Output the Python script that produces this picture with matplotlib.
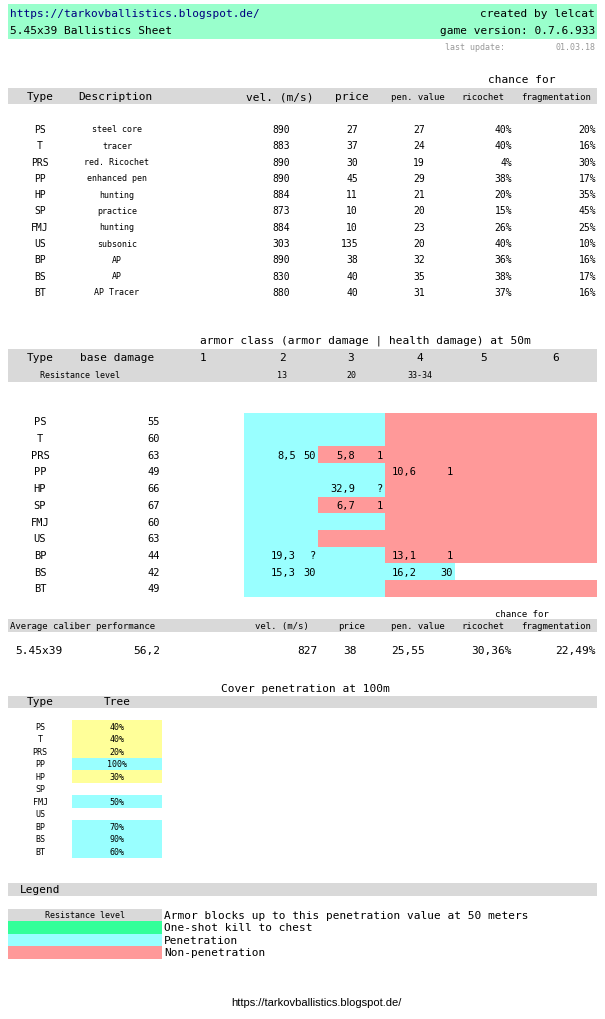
import matplotlib
matplotlib.use("Agg")
import matplotlib.pyplot as plt
from matplotlib.patches import Rectangle

types = ["PS","T","PRS","PP","HP","SP","FMJ","US","BP","BS","BT"]
descs = ["steel core","tracer","red. Ricochet","enhanced pen","hunting","practice","hunting","subsonic","AP","AP","AP Tracer"]
vel = [890,883,890,890,884,873,884,303,890,830,880]
price = [27,37,30,45,11,10,10,135,38,40,40]
pen = [27,24,19,29,21,20,23,20,32,35,31]
rico = ["40%","40%","4%","38%","20%","15%","26%","40%","36%","38%","37%"]
frag = ["20%","16%","30%","17%","35%","45%","25%","10%","16%","17%","16%"]
base_dmg = [55,60,63,49,66,67,60,63,44,42,49]
# armor classes 2..6 : 'c' penetration, 'r' non-penetration, '' none ; per class 2,3,4-6
armor = [["c","c","r"],["c","c","r"],["c","r","r"],["c","c","r"],["c","c","r"],
         ["c","r","r"],["c","c","r"],["c","r","r"],["c","c","r"],["c","c","c4"],["c","c","r"]]
armor_txt = {("PRS",0):("8,5","50"),("PRS",1):("5,8","1"),("PP",2):("10,6","1"),
             ("HP",1):("32,9","?"),("SP",1):("6,7","1"),("BP",0):("19,3","?"),
             ("BP",2):("13,1","1"),("BS",0):("15,3","30"),("BS",2):("16,2","30")}
cover = ["40%","40%","20%","100%","30%","","50%","","70%","90%","60%"]
avg = ["5.45x39","56,2","827","38","25,55","30,36%","22,49%"]

CY="#99ffff"; RD="#ff9999"; GR="#d9d9d9"; YE="#ffff99"; GN="#99ffcc"
fig = plt.figure(figsize=(6.05,10.2), dpi=100)
ax = fig.add_axes([0,0,1,1]); ax.set_xlim(0,605); ax.set_ylim(1020,0); ax.axis("off")
M="DejaVu Sans Mono"
def t(x,y,s,size=8,ha="left",c="black",f=M):
    ax.text(x,y,s,fontsize=size,ha=ha,va="center",color=c,family=f)
def r(x0,y0,x1,y1,c):
    ax.add_patch(Rectangle((x0,y0),x1-x0,y1-y0,color=c,lw=0))

r(8,5,597,40,GN)
t(10,14,"https://tarkovballistics.blogspot.de/",8,c="#000080")
t(10,31,"5.45x39 Ballistics Sheet",8)
t(595,14,"created by lelcat",8,"right")
t(595,31,"game version: 0.7.6.933",8,"right")
t(445,48,"last update:",6,c="#999999"); t(595,48,"01.03.18",6,"right",c="#999999")
t(522,80,"chance for",8,"center")
r(8,89,597,105,GR)
for x,s,h in [(40,"Type","center"),(78,"Description","left"),(280,"vel. (m/s)","center"),
              (352,"price","center"),(418,"pen. value","center"),(483,"ricochet","center"),(556,"fragmentation","center")]:
    t(x,97,s,8 if x<400 else 6.5,h)
for i,ty in enumerate(types):
    y=130+i*16.3
    t(40,y,ty,7,"center"); t(117,y,descs[i],6,"center")
    t(290,y,str(vel[i]),7,"right"); t(358,y,str(price[i]),7,"right")
    t(425,y,str(pen[i]),7,"right"); t(512,y,rico[i],7,"right"); t(596,y,frag[i],7,"right")

t(365,341,"armor class (armor damage | health damage) at 50m",8,"center")
r(8,350,597,383,GR)
for x,s in [(40,"Type"),(117,"base damage"),(203,"1"),(282,"2"),(351,"3"),(420,"4"),(484,"5"),(556,"6")]:
    t(x,358,s,8,"center")
t(40,376,"Resistance level",6); t(282,376,"13",6,"center"); t(351,376,"20",6,"center"); t(420,376,"33-34",6,"center")
xs=[244,318,385,455,597]
for i,ty in enumerate(types):
    y0=414+i*16.7; y1=y0+16.7; yc=(y0+y1)/2
    t(40,yc,ty,7.5,"center"); t(160,yc,str(base_dmg[i]),7.5,"right")
    a=armor[i]
    r(xs[0],y0,xs[1],y1,CY if a[0]=="c" else RD)
    r(xs[1],y0,xs[2],y1,CY if a[1]=="c" else RD)
    if a[2]=="r": r(xs[2],y0,xs[4],y1,RD)
    else: r(xs[2],y0,xs[3],y1,CY)
    for k in range(3):
        if (ty,k) in armor_txt:
            a1,a2=armor_txt[(ty,k)]
            t(xs[k]+(37 if k==1 else 52 if k==0 else 32),yc,a1,7.5,"right")
            t(xs[k+1]-(2 if k<2 else 2),yc,a2,7.5,"right") if k<2 else t(xs[2]+68,yc,a2,7.5,"right")
t(522,615,"chance for",6.5,"center")
r(8,620,597,633,GR)
for x,s in [(10,"Average caliber performance"),(282,"vel. (m/s)"),(352,"price"),(418,"pen. value"),(483,"ricochet"),(556,"fragmentation")]:
    t(x,627,s,6.5,"left" if x==10 else "center")
for x,s in zip([15,160,317,357,425,512,596],avg):
    t(x,651,s,8,"left" if x==15 else "right")
t(305,689,"Cover penetration at 100m",8,"center")
r(8,697,597,709,GR); t(40,702,"Type",8,"center"); t(117,702,"Tree",8,"center")
for i,ty in enumerate(types):
    y0=721+i*12.5; yc=y0+6.25
    t(40,yc,ty,6,"center")
    if cover[i]:
        r(72,y0,162,y0+12.5,CY if cover[i] in("100%","50%","70%","90%","60%") else YE)
        t(117,yc,cover[i],6,"center")
r(8,884,597,897,GR); t(20,890,"Legend",8)
for y0,c,s in [(910,GR,"Armor blocks up to this penetration value at 50 meters"),(922,"#33ff99","One-shot kill to chest"),
               (935,CY,"Penetration"),(947,RD,"Non-penetration")]:
    r(8,y0,162,y0+12.5,c); t(164,y0+6,s,8)
t(85,916,"Resistance level",6,"center")
t(316,1003,"https://tarkovballistics.blogspot.de/",8,"center",f="Liberation Sans")
fig.savefig("out.png",dpi=100)
